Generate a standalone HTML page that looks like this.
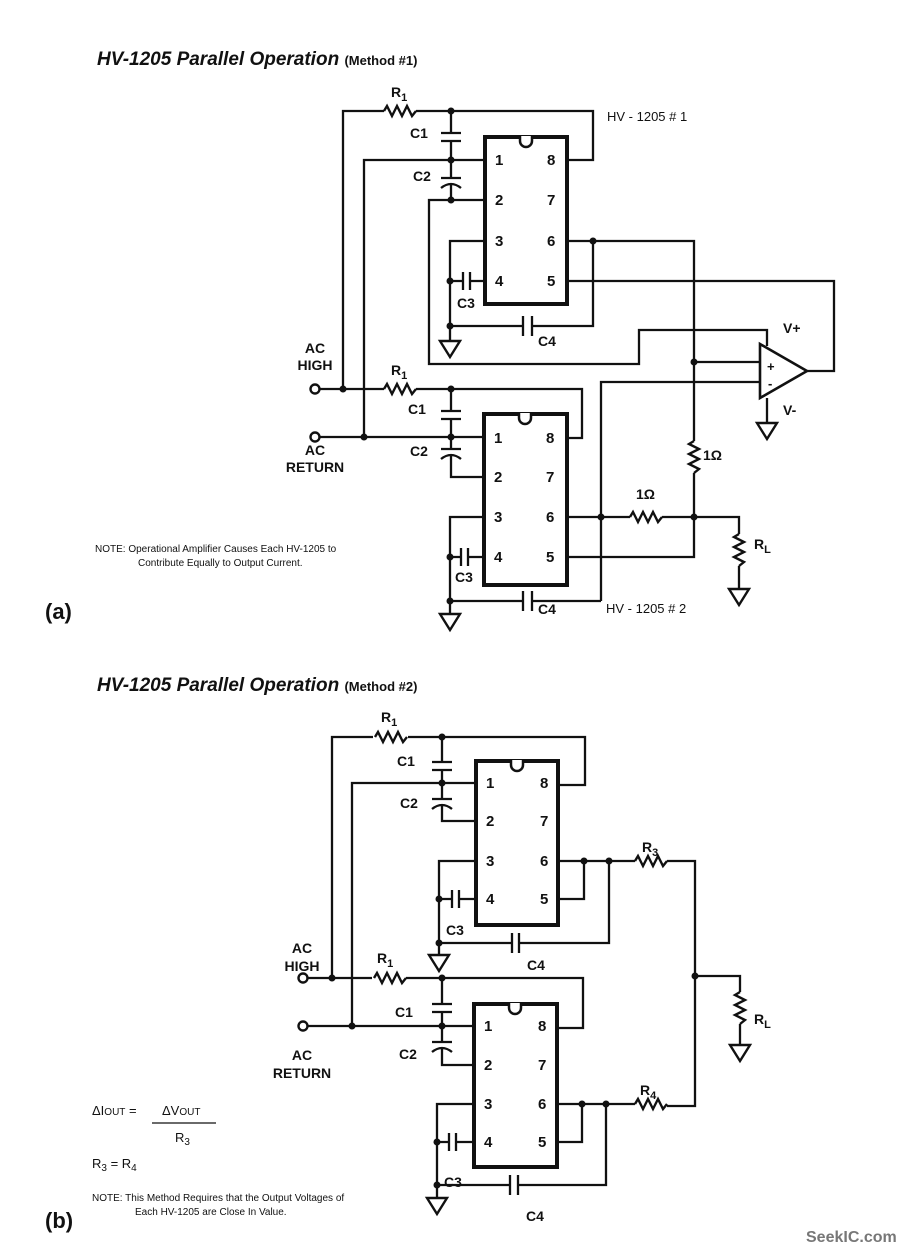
<!DOCTYPE html>
<html><head><meta charset="utf-8"><style>
html,body{margin:0;padding:0;background:#fff;}
svg{display:block;}
text{font-family:"Liberation Sans",Arial,sans-serif;fill:#111;}
.b{font-weight:bold;}
</style></head><body>
<svg width="899" height="1253" viewBox="0 0 899 1253" xmlns="http://www.w3.org/2000/svg">
<defs>
<g id="gnd"><path d="M-10 0 H10 L0 16 Z" fill="none" stroke="#111" stroke-width="2.4"/></g>
<g id="rh"><path d="M0 0 l3 -5 l5 10 l5 -10 l5 10 l5 -10 l5 10 l4 -5" fill="none" stroke="#111" stroke-width="2.4"/></g>
<g id="rv"><path d="M0 0 l-5 3 l10 5 l-10 5 l10 5 l-10 5 l10 5 l-5 4" fill="none" stroke="#111" stroke-width="2.4"/></g>
</defs>
<g fill="none" stroke="#111" stroke-width="2.3">
<!-- ===== (a) ===== -->
<path d="M343 389 V111 H384 M416 111 H593 V160 H567"/>
<use href="#rh" x="384" y="111"/>
<rect x="485" y="137" width="82" height="167" stroke-width="4"/>
<path d="M451 111 V133 M441 133 H461 M441 141 H461 M451 141 V178 M441 178 H461 M441 188 Q451 180 461 188 M451 184 V200"/>
<path d="M364 437 V160 H485"/>
<path d="M485 200 H429 V364 H639 V330 H767 V346"/>
<path d="M485 241 H450 V341"/>
<path d="M450 281 H463 M463 272 V290 M470 272 V290 M470 281 H485"/>
<path d="M450 326 H523 M523 316 V336 M532 316 V336 M532 326 H593 V241"/>
<path d="M567 241 H694 V441 M694 473 V520"/>
<use href="#rv" x="694" y="441"/>
<path d="M694 362 H760"/>
<path d="M567 281 H834 V371 H807"/>
<path d="M760 344 L807 371 L760 398 Z" stroke-width="2.6"/>
<path d="M760 382 H601 V601"/>
<path d="M767 398 V423"/>
<circle cx="315" cy="389" r="4.5" stroke-width="2.4"/>
<path d="M320 389 H384 M416 389 H582 V438 H567"/>
<use href="#rh" x="384" y="389"/>
<rect x="484" y="414" width="83" height="171" stroke-width="4"/>
<circle cx="315" cy="437" r="4.5" stroke-width="2.4"/>
<path d="M320 437 H484"/>
<path d="M451 389 V411 M441 411 H461 M441 419 H461 M451 419 V449 M441 449 H461 M441 459 Q451 451 461 459 M451 455 V477 H484"/>
<path d="M484 517 H450 V614"/>
<path d="M450 557 H461 M461 548 V566 M468 548 V566 M468 557 H484"/>
<path d="M450 601 H523 M523 591 V611 M532 591 V611 M532 601 H601"/>
<path d="M567 517 H630 M662 517 H739 V534 M739 566 V589"/>
<use href="#rh" x="630" y="517"/>
<use href="#rv" x="739" y="534"/>
<path d="M567 557 H694 V520"/>
<!-- ===== (b) ===== -->
<path d="M332 978 V737 H373 M408 737 H585 V785 H558"/>
<use href="#rh" x="375" y="737"/>
<rect x="476" y="761" width="82" height="164" stroke-width="4"/>
<path d="M442 737 V762 M432 762 H452 M432 770 H452 M442 770 V799 M432 799 H452 M432 809 Q442 801 452 809 M442 805 V821 H476"/>
<path d="M352 1026 V783 H476"/>
<path d="M476 861 H439 V955"/>
<path d="M439 899 H452 M452 890 V908 M459 890 V908 M459 899 H476"/>
<path d="M439 943 H512 M512 933 V953 M519 933 V953 M519 943 H609 V861"/>
<path d="M558 861 H635 M667 861 H695 V1106 H667 M635 1104 H557"/>
<use href="#rh" x="635" y="861"/>
<use href="#rh" x="635" y="1104"/>
<path d="M558 899 H584 V861"/>
<path d="M695 976 H740 V992 M740 1024 V1045"/>
<use href="#rv" x="740" y="992"/>
<circle cx="303" cy="978" r="4.5" stroke-width="2.4"/>
<path d="M308 978 H372 M406 978 H583 V1028 H557"/>
<use href="#rh" x="374" y="978"/>
<rect x="474" y="1004" width="83" height="163" stroke-width="4"/>
<circle cx="303" cy="1026" r="4.5" stroke-width="2.4"/>
<path d="M308 1026 H474"/>
<path d="M442 978 V1004 M432 1004 H452 M432 1012 H452 M442 1012 V1042 M432 1042 H452 M432 1052 Q442 1044 452 1052 M442 1048 V1065 H474"/>
<path d="M474 1104 H437 V1198"/>
<path d="M437 1142 H449 M449 1133 V1151 M456 1133 V1151 M456 1142 H474"/>
<path d="M437 1185 H510 M510 1175 V1195 M518 1175 V1195 M518 1185 H606 V1104"/>
<path d="M557 1142 H582 V1104"/>
<path d="M152 1123 H216" stroke-width="1.2"/>
</g>
<g fill="#fff" stroke="#111" stroke-width="2.5">
<path d="M520 136 v5 a6 6 0 0 0 12 0 v-5"/>
<path d="M519 413 v5 a6 6 0 0 0 12 0 v-5"/>
<path d="M511 760 v5 a6 6 0 0 0 12 0 v-5"/>
<path d="M509 1003 v5 a6 6 0 0 0 12 0 v-5"/>
</g>
<use href="#gnd" x="450" y="341"/>
<use href="#gnd" x="767" y="423"/>
<use href="#gnd" x="450" y="614"/>
<use href="#gnd" x="739" y="589"/>
<use href="#gnd" x="439" y="955"/>
<use href="#gnd" x="740" y="1045"/>
<use href="#gnd" x="437" y="1198"/>
<g fill="#111">
<circle cx="343" cy="389" r="3.5"/><circle cx="451" cy="111" r="3.5"/><circle cx="451" cy="160" r="3.5"/><circle cx="451" cy="200" r="3.5"/><circle cx="593" cy="241" r="3.5"/><circle cx="450" cy="281" r="3.5"/><circle cx="450" cy="326" r="3.5"/><circle cx="694" cy="362" r="3.5"/><circle cx="451" cy="389" r="3.5"/><circle cx="364" cy="437" r="3.5"/><circle cx="451" cy="437" r="3.5"/><circle cx="450" cy="557" r="3.5"/><circle cx="450" cy="601" r="3.5"/><circle cx="601" cy="517" r="3.5"/><circle cx="694" cy="517" r="3.5"/>
<circle cx="332" cy="978" r="3.5"/><circle cx="442" cy="737" r="3.5"/><circle cx="442" cy="783" r="3.5"/><circle cx="439" cy="899" r="3.5"/><circle cx="439" cy="943" r="3.5"/><circle cx="584" cy="861" r="3.5"/><circle cx="609" cy="861" r="3.5"/><circle cx="695" cy="976" r="3.5"/><circle cx="442" cy="978" r="3.5"/><circle cx="352" cy="1026" r="3.5"/><circle cx="442" cy="1026" r="3.5"/><circle cx="437" cy="1142" r="3.5"/><circle cx="437" cy="1185" r="3.5"/><circle cx="582" cy="1104" r="3.5"/><circle cx="606" cy="1104" r="3.5"/>
</g>
<text x="97" y="65" class="b" font-size="19" font-style="italic">HV-1205 Parallel Operation <tspan font-size="13" font-style="normal">(Method #1)</tspan></text>
<g class="b" font-size="15" font-weight="bold">
<text x="495" y="165">1</text><text x="495" y="205">2</text><text x="495" y="246">3</text><text x="495" y="286">4</text>
<text x="547" y="165">8</text><text x="547" y="205">7</text><text x="547" y="246">6</text><text x="547" y="286">5</text>
<text x="494" y="443">1</text><text x="494" y="482">2</text><text x="494" y="522">3</text><text x="494" y="562">4</text>
<text x="546" y="443">8</text><text x="546" y="482">7</text><text x="546" y="522">6</text><text x="546" y="562">5</text>
</g>
<g class="b" font-size="14" font-weight="bold">
<text x="391" y="97">R<tspan font-size="11" dy="4">1</tspan></text>
<text x="410" y="138">C1</text><text x="413" y="181">C2</text>
<text x="457" y="308">C3</text><text x="538" y="346">C4</text>
<text x="315" y="353" text-anchor="middle">AC</text><text x="315" y="370" text-anchor="middle">HIGH</text>
<text x="391" y="375">R<tspan font-size="11" dy="4">1</tspan></text>
<text x="408" y="414">C1</text><text x="410" y="456">C2</text>
<text x="315" y="455" text-anchor="middle">AC</text><text x="315" y="472" text-anchor="middle">RETURN</text>
<text x="455" y="582">C3</text><text x="538" y="614">C4</text>
<text x="783" y="333">V+</text><text x="783" y="415">V-</text>
<text x="703" y="460">1Ω</text><text x="636" y="499">1Ω</text>
<text x="754" y="549">R<tspan font-size="11" dy="4">L</tspan></text>
<text x="767" y="371" font-size="13">+</text><text x="768" y="388" font-size="13">-</text>
</g>
<text x="607" y="121" font-size="13">HV - 1205 # 1</text>
<text x="606" y="613" font-size="13">HV - 1205 # 2</text>
<text x="95" y="552" font-size="10">NOTE: Operational Amplifier Causes Each HV-1205 to</text>
<text x="138" y="566" font-size="10">Contribute Equally to Output Current.</text>
<text x="45" y="619" class="b" font-size="22">(a)</text>
<text x="97" y="691" class="b" font-size="19" font-style="italic">HV-1205 Parallel Operation <tspan font-size="13" font-style="normal">(Method #2)</tspan></text>
<g class="b" font-size="15" font-weight="bold">
<text x="486" y="788">1</text><text x="486" y="826">2</text><text x="486" y="866">3</text><text x="486" y="904">4</text>
<text x="540" y="788">8</text><text x="540" y="826">7</text><text x="540" y="866">6</text><text x="540" y="904">5</text>
<text x="484" y="1031">1</text><text x="484" y="1070">2</text><text x="484" y="1109">3</text><text x="484" y="1147">4</text>
<text x="538" y="1031">8</text><text x="538" y="1070">7</text><text x="538" y="1109">6</text><text x="538" y="1147">5</text>
</g>
<g class="b" font-size="14" font-weight="bold">
<text x="381" y="722">R<tspan font-size="11" dy="4">1</tspan></text>
<text x="397" y="766">C1</text><text x="400" y="808">C2</text>
<text x="446" y="935">C3</text><text x="527" y="970">C4</text>
<text x="642" y="852">R<tspan font-size="11" dy="4">3</tspan></text>
<text x="302" y="953" text-anchor="middle">AC</text><text x="302" y="971" text-anchor="middle">HIGH</text>
<text x="377" y="963">R<tspan font-size="11" dy="4">1</tspan></text>
<text x="395" y="1017">C1</text><text x="399" y="1059">C2</text>
<text x="302" y="1060" text-anchor="middle">AC</text><text x="302" y="1078" text-anchor="middle">RETURN</text>
<text x="444" y="1187">C3</text><text x="526" y="1221">C4</text>
<text x="640" y="1095">R<tspan font-size="11" dy="4">4</tspan></text>
<text x="754" y="1024">R<tspan font-size="11" dy="4">L</tspan></text>
</g>
<text x="92" y="1115" font-size="13">ΔI<tspan font-size="10">OUT</tspan> =</text>
<text x="162" y="1115" font-size="13">ΔV<tspan font-size="10">OUT</tspan></text>
<text x="175" y="1142" font-size="13">R<tspan font-size="10" dy="3">3</tspan></text>
<text x="92" y="1168" font-size="13">R<tspan font-size="10" dy="3">3</tspan><tspan dy="-3"> = R</tspan><tspan font-size="10" dy="3">4</tspan></text>
<text x="92" y="1201" font-size="10">NOTE: This Method Requires that the Output Voltages of</text>
<text x="135" y="1215" font-size="10">Each HV-1205 are Close In Value.</text>
<text x="45" y="1228" class="b" font-size="22">(b)</text>
<text x="806" y="1242" class="b" font-size="16" style="fill:#777">SeekIC.com</text>
</svg>
</body></html>
